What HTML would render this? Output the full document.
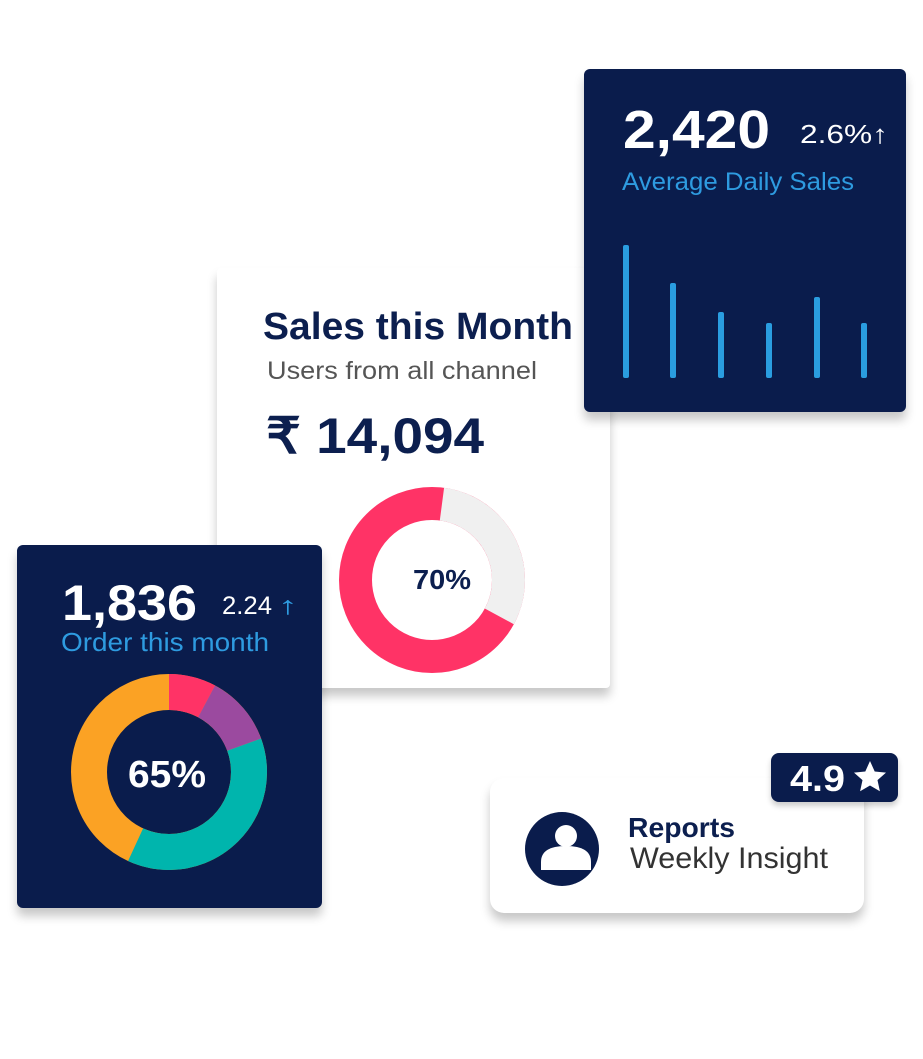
<!DOCTYPE html>
<html><head><meta charset="utf-8"><style>
html,body{margin:0;padding:0;background:#fff;width:923px;height:1059px;overflow:hidden;position:relative}
.c{position:absolute;box-shadow:0 8px 10px rgba(0,0,0,0.22)}
svg{position:absolute;left:0;top:0}
text{font-family:"Liberation Sans",sans-serif}
</style></head><body>
<div class="c" style="left:217px;top:268px;width:393px;height:420px;background:#fff;border-radius:4px"></div>
<div class="c" style="left:584px;top:69px;width:322px;height:343px;background:#0a1c4c;border-radius:6px"></div>
<div class="c" style="left:17px;top:545px;width:305px;height:363px;background:#0a1c4c;border-radius:6px"></div>
<div class="c" style="left:490px;top:778px;width:374px;height:135px;background:#fff;border-radius:14px"></div>
<div class="c" style="left:771px;top:753px;width:127px;height:49px;background:#0a1c4c;border-radius:8px;box-shadow:0 4px 6px rgba(0,0,0,0.2)"></div>
<svg width="923" height="1059" viewBox="0 0 923 1059">
<g fill="#2a9de0">
<rect x="623" y="245" width="6" height="133" rx="2"/>
<rect x="670" y="283" width="6" height="95" rx="2"/>
<rect x="718" y="312" width="6" height="66" rx="2"/>
<rect x="766" y="323" width="6" height="55" rx="2"/>
<rect x="814" y="297" width="6" height="81" rx="2"/>
<rect x="861" y="323" width="6" height="55" rx="2"/>
</g>
<text x="623" y="148" font-size="54" font-weight="bold" fill="#fff" textLength="147" lengthAdjust="spacingAndGlyphs">2,420</text>
<text x="800" y="143" font-size="26" fill="#fff" textLength="88" lengthAdjust="spacingAndGlyphs">2.6%↑</text>
<text x="622" y="190" font-size="25" fill="#2e9be0" textLength="232" lengthAdjust="spacingAndGlyphs">Average Daily Sales</text>
<text x="263" y="339" font-size="38" font-weight="bold" fill="#0c1f4f" textLength="310" lengthAdjust="spacingAndGlyphs">Sales this Month</text>
<text x="267" y="379" font-size="25" fill="#555" textLength="270" lengthAdjust="spacingAndGlyphs">Users from all channel</text>
<text x="266" y="453" font-size="50" font-weight="bold" fill="#0c1f4f" textLength="218" lengthAdjust="spacingAndGlyphs">₹ 14,094</text>
<g transform="rotate(-90 432 580)" fill="none" stroke-width="33">
<circle cx="432" cy="580" r="76.5" stroke="#ff3366"/>
<circle cx="432" cy="580" r="76.5" stroke="#f0f0f0" stroke-dasharray="148 337" stroke-dashoffset="-10"/>
</g>
<text x="442" y="589" font-size="28" font-weight="bold" fill="#0c1f4f" text-anchor="middle" textLength="58" lengthAdjust="spacingAndGlyphs">70%</text>
<text x="62" y="620" font-size="50" font-weight="bold" fill="#fff" textLength="135" lengthAdjust="spacingAndGlyphs">1,836</text>
<text x="222" y="614" font-size="25" fill="#fff" textLength="50" lengthAdjust="spacingAndGlyphs">2.24</text>
<text x="278" y="614" font-size="25" fill="#2e9be0" textLength="20" lengthAdjust="spacingAndGlyphs">↑</text>
<text x="61" y="651" font-size="26" fill="#2e9be0" textLength="208" lengthAdjust="spacingAndGlyphs">Order this month</text>
<g transform="rotate(-90 169 772)" fill="none" stroke-width="36">
<circle cx="169" cy="772" r="80" stroke="#fba224"/>
<circle cx="169" cy="772" r="80" stroke="#ff3366" stroke-dasharray="39.1 500"/>
<circle cx="169" cy="772" r="80" stroke="#9b4a9f" stroke-dasharray="58.6 500" stroke-dashoffset="-39.1"/>
<circle cx="169" cy="772" r="80" stroke="#00b5ad" stroke-dasharray="188 500" stroke-dashoffset="-97.7"/>
</g>
<text x="167" y="787" font-size="38" font-weight="bold" fill="#fff" text-anchor="middle" textLength="78" lengthAdjust="spacingAndGlyphs">65%</text>
<circle cx="562" cy="849" r="37" fill="#0a1c4c"/>
<circle cx="566" cy="836" r="11" fill="#fff"/>
<path d="M541 870 L541 862 Q541 846 566 846 Q591 846 591 862 L591 870 Z" fill="#fff"/>
<text x="628" y="837" font-size="28" font-weight="bold" fill="#0c1f4f" textLength="107" lengthAdjust="spacingAndGlyphs">Reports</text>
<text x="630" y="868" font-size="30" fill="#333" textLength="198" lengthAdjust="spacingAndGlyphs">Weekly Insight</text>
<text x="790" y="791" font-size="36" font-weight="bold" fill="#fff" textLength="55" lengthAdjust="spacingAndGlyphs">4.9</text>
<path d="M870 761 L874.7 771.5 L886 772.6 L877.5 780.1 L879.9 791.2 L870 785.5 L860.1 791.2 L862.5 780.1 L854 772.6 L865.3 771.5 Z" fill="#fff"/>
</svg>
</body></html>
